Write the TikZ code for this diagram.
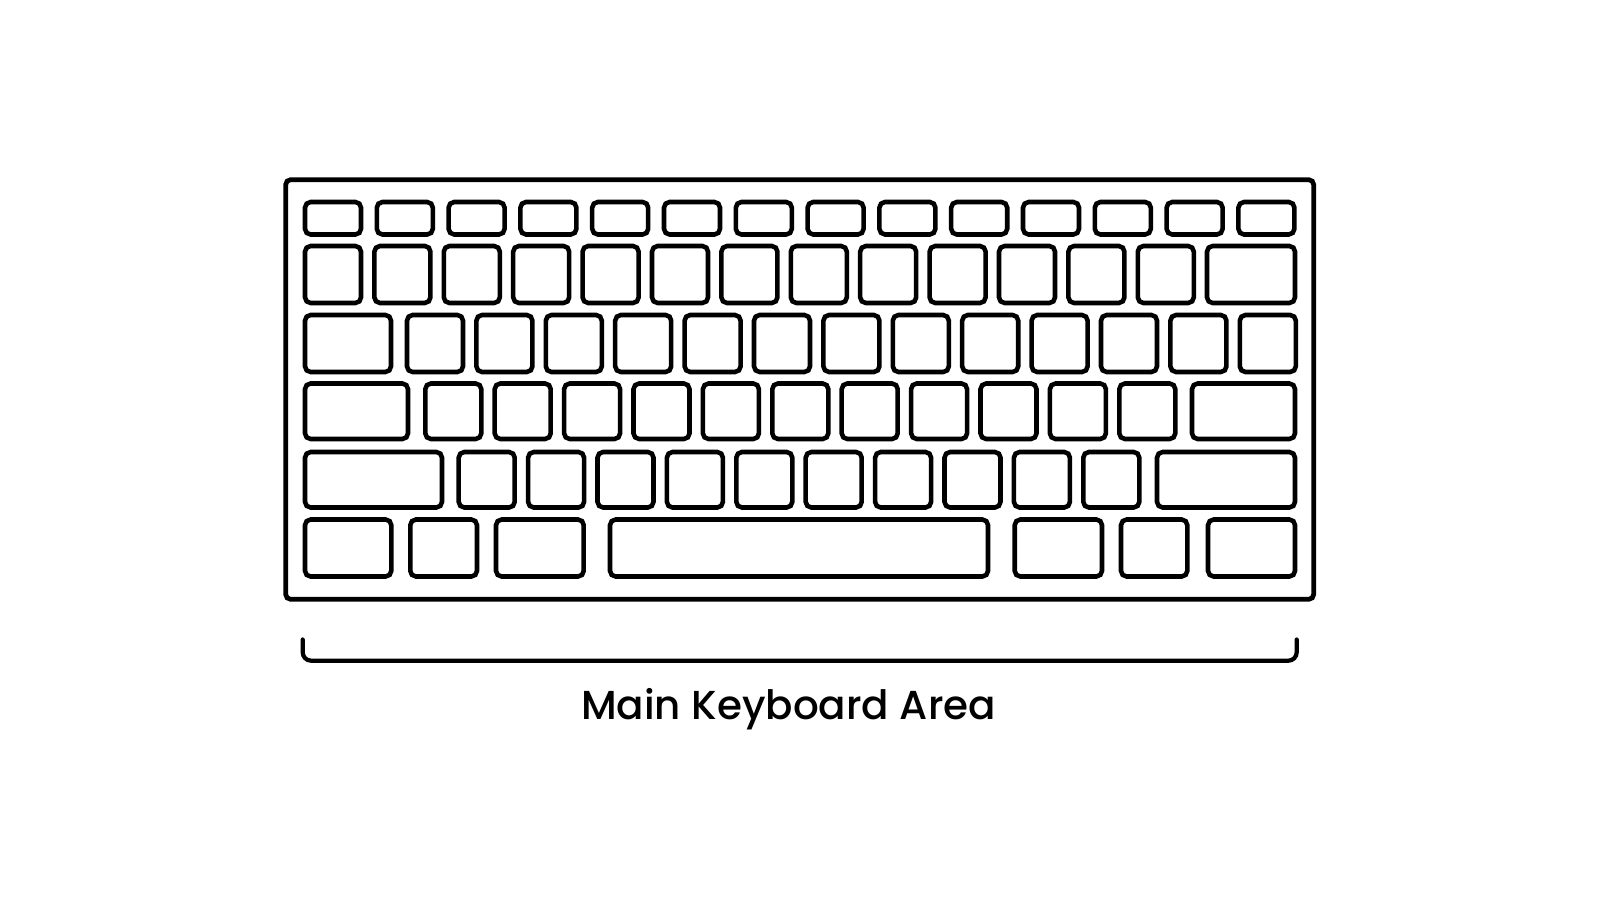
\documentclass[tikz,border=0pt]{standalone}
\usepackage{fontspec}
\setmainfont{Poppins}
\newfontfamily\labelfont{Poppins Medium}
\usepackage{tikz}

\begin{document}
\begin{tikzpicture}[x=0.01cm, y=-0.01cm,
		keycap/.style={line width=1.3pt, rounded corners=1.6pt},
		frame/.style={line width=1.35pt, rounded corners=1.4pt},
		brace/.style={line width=1.2pt, line cap=round, rounded corners=2.4pt}]
			\def\kw{56};
			\def\kh{56};
			\def\u{69.4};

			\useasboundingbox (0,0) rectangle (1600,900);

			% case
			\begin{scope}
				\draw[frame] (285.7,179.7) rectangle (1313.7,599.3);
			\end{scope}

			% function row
			\begin{scope}
				\foreach \i in {0,...,13}
				{
					\draw[keycap] ({305+\i*71.8},202) rectangle ++(\kw,32.5);
				}
			\end{scope}

			% number row
			\begin{scope}
				\foreach \i in {0,...,12}
				{
					\draw[keycap] ({305+\i*\u},246) rectangle ++(\kw,57);
				}
				\draw[keycap] (1207,246) rectangle (1295,303);
			\end{scope}

			% top letter row
			\begin{scope}
				\draw[keycap] (305,315) rectangle (391,372);
				\foreach \i in {0,...,12}
				{
					\draw[keycap] ({407+\i*\u},315) rectangle ++(\kw,57);
				}
			\end{scope}

			% home row
			\begin{scope}
				\draw[keycap] (305,383.5) rectangle (408,439);
				\foreach \i in {0,...,10}
				{
					\draw[keycap] ({425.3+\i*\u},383.5) rectangle ++(\kw,55.5);
				}
				\draw[keycap] (1192,383.5) rectangle (1295,439);
			\end{scope}

			% bottom letter row
			\begin{scope}
				\draw[keycap] (305,452) rectangle (442,507.5);
				\foreach \i in {0,...,9}
				{
					\draw[keycap] ({458.7+\i*\u},452) rectangle ++(\kw,55.5);
				}
				\draw[keycap] (1157,452) rectangle (1295,507.5);
			\end{scope}

			% space row
			\begin{scope}
				\foreach \a/\b in {305/391.3, 410.3/477, 496/583.7, 610/988, 1014.7/1102, 1121/1187.3, 1208/1295}
				{
					\draw[keycap] (\a,519.5) rectangle (\b,576.5);
				}
			\end{scope}

			% bracket and label
			\begin{scope}
				\coordinate (bracketL) at (302.7,639.5);
				\coordinate (bracketR) at (1296.7,639.5);
				\draw[brace] (bracketL) -- ++(0,21.2) -| (bracketR);
				\node[anchor=base, inner sep=0pt, font=\labelfont\fontsize{11.5}{14}\selectfont] (areaLabel) at (788.5,719) {Main Keyboard Area};
			\end{scope}
		\end{tikzpicture}
\end{document}
